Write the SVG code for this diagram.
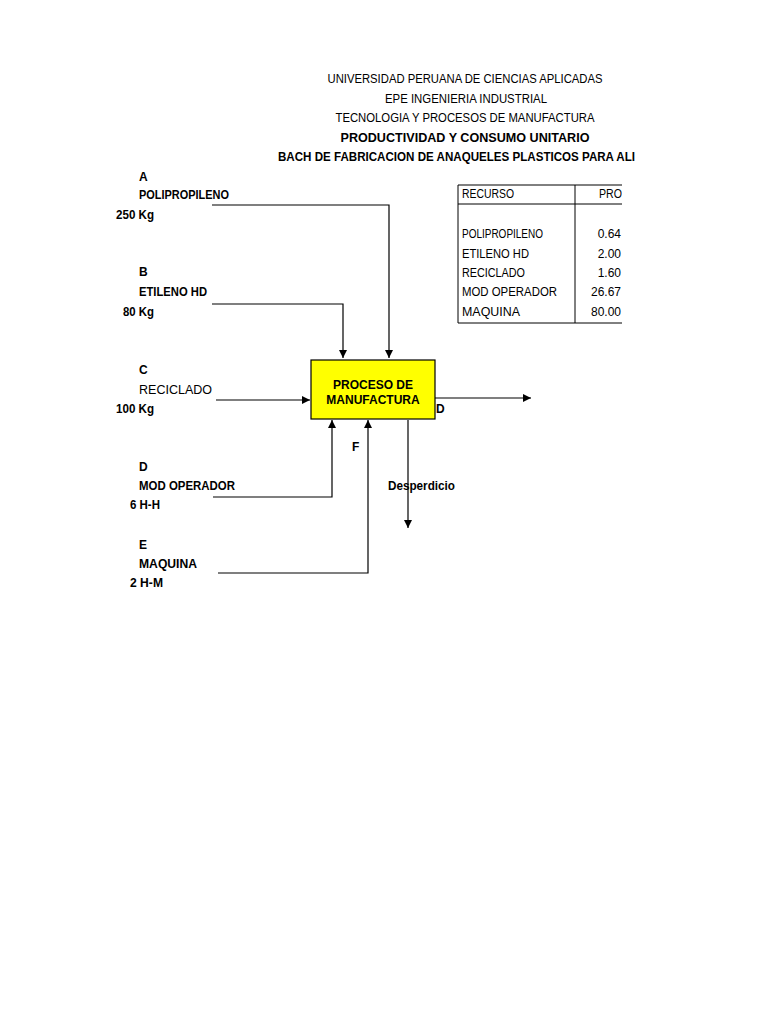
<svg xmlns="http://www.w3.org/2000/svg" width="768" height="1024" viewBox="0 0 768 1024">
<defs>
<style>
.t{font-family:"Liberation Sans",Arial,sans-serif;font-size:12px;fill:#000}
.b{font-weight:bold}
.c{stroke:#000;stroke-width:1.2;fill:none}
.tl{stroke:#000;stroke-width:1;fill:none}
</style>
<marker id="ah" viewBox="0 0 10 10" refX="10" refY="5" markerWidth="8" markerHeight="8" markerUnits="userSpaceOnUse" orient="auto">
<path d="M0,0 L10,5 L0,10 Z" fill="#000"/>
</marker>
<clipPath id="clip"><rect x="0" y="0" width="622" height="1024"/></clipPath>
</defs>
<rect width="768" height="1024" fill="#fff"/>

<g id="title">
<text class="t" x="465" y="83" text-anchor="middle" textLength="275" lengthAdjust="spacingAndGlyphs">UNIVERSIDAD PERUANA DE CIENCIAS APLICADAS</text>
<text class="t" x="466" y="103" text-anchor="middle" textLength="162" lengthAdjust="spacingAndGlyphs">EPE INGENIERIA INDUSTRIAL</text>
<text class="t" x="465" y="122" text-anchor="middle" textLength="259" lengthAdjust="spacingAndGlyphs">TECNOLOGIA Y PROCESOS DE MANUFACTURA</text>
<text class="t b" x="465" y="142" text-anchor="middle" font-size="13" textLength="249" lengthAdjust="spacingAndGlyphs">PRODUCTIVIDAD Y CONSUMO UNITARIO</text>
<text class="t b" x="278" y="161" textLength="357" lengthAdjust="spacingAndGlyphs">BACH DE FABRICACION DE ANAQUELES PLASTICOS PARA ALI</text>
</g>

<g id="connectors">
<polyline class="c" points="212,205 389,205 389,358" marker-end="url(#ah)"/>
<polyline class="c" points="212,304 343,304 343,358" marker-end="url(#ah)"/>
<line class="c" x1="216" y1="400" x2="310" y2="400" marker-end="url(#ah)"/>
<line class="c" x1="435" y1="398" x2="531" y2="398" marker-end="url(#ah)"/>
<polyline class="c" points="213,497 332,497 332,420" marker-end="url(#ah)"/>
<polyline class="c" points="218,573 368,573 368,420" marker-end="url(#ah)"/>
<line class="c" x1="408" y1="420" x2="408" y2="528" marker-end="url(#ah)"/>
</g>

<g id="node-proceso">
<rect x="311" y="360" width="124" height="59" fill="#ffff00" stroke="#000" stroke-width="1.2"/>
<text class="t b" x="373" y="389" text-anchor="middle">PROCESO DE</text>
<text class="t b" x="373" y="404" text-anchor="middle">MANUFACTURA</text>
</g>

<g id="node-a">
<text class="t b" x="139" y="181">A</text>
<text class="t b" x="139" y="199" textLength="90" lengthAdjust="spacingAndGlyphs">POLIPROPILENO</text>
<text class="t b" x="116" y="219" textLength="38" lengthAdjust="spacingAndGlyphs">250 Kg</text>
</g>
<g id="node-b">
<text class="t b" x="139" y="276">B</text>
<text class="t b" x="139" y="296" textLength="68" lengthAdjust="spacingAndGlyphs">ETILENO HD</text>
<text class="t b" x="123" y="316" textLength="31" lengthAdjust="spacingAndGlyphs">80 Kg</text>
</g>
<g id="node-c">
<text class="t b" x="139" y="374">C</text>
<text class="t" x="139" y="394" fill="#333" textLength="73" lengthAdjust="spacingAndGlyphs">RECICLADO</text>
<text class="t b" x="116" y="413" textLength="38" lengthAdjust="spacingAndGlyphs">100 Kg</text>
</g>
<g id="node-d">
<text class="t b" x="139" y="471">D</text>
<text class="t b" x="139" y="490" textLength="96" lengthAdjust="spacingAndGlyphs">MOD OPERADOR</text>
<text class="t b" x="130" y="509" textLength="30" lengthAdjust="spacingAndGlyphs">6 H-H</text>
</g>
<g id="node-e">
<text class="t b" x="139" y="549">E</text>
<text class="t b" x="139" y="568" textLength="58" lengthAdjust="spacingAndGlyphs">MAQUINA</text>
<text class="t b" x="130" y="587" textLength="33" lengthAdjust="spacingAndGlyphs">2 H-M</text>
</g>
<g id="labels">
<text class="t b" x="352" y="451">F</text>
<text class="t b" x="436" y="413">D</text>
<text class="t b" x="388" y="490" textLength="67" lengthAdjust="spacingAndGlyphs">Desperdicio</text>
</g>

<g id="table" clip-path="url(#clip)">
<line class="tl" x1="458" y1="185" x2="622" y2="185"/>
<line class="tl" x1="458" y1="204" x2="622" y2="204"/>
<line class="tl" x1="458" y1="323" x2="622" y2="323"/>
<line class="tl" x1="458" y1="185" x2="458" y2="323"/>
<line class="tl" x1="575" y1="185" x2="575" y2="323"/>
<text class="t" x="462" y="198" textLength="52" lengthAdjust="spacingAndGlyphs">RECURSO</text>
<text class="t" x="599" y="198" textLength="23" lengthAdjust="spacingAndGlyphs">PRO</text>
<text class="t" x="462" y="238" textLength="81" lengthAdjust="spacingAndGlyphs">POLIPROPILENO</text>
<text class="t" x="462" y="258" textLength="67" lengthAdjust="spacingAndGlyphs">ETILENO HD</text>
<text class="t" x="462" y="277" textLength="63" lengthAdjust="spacingAndGlyphs">RECICLADO</text>
<text class="t" x="462" y="296" textLength="95" lengthAdjust="spacingAndGlyphs">MOD OPERADOR</text>
<text class="t" x="462" y="316" textLength="58" lengthAdjust="spacingAndGlyphs">MAQUINA</text>
<text class="t" x="621" y="238" text-anchor="end">0.64</text>
<text class="t" x="621" y="258" text-anchor="end">2.00</text>
<text class="t" x="621" y="277" text-anchor="end">1.60</text>
<text class="t" x="621" y="296" text-anchor="end">26.67</text>
<text class="t" x="621" y="316" text-anchor="end">80.00</text>
</g>
</svg>
